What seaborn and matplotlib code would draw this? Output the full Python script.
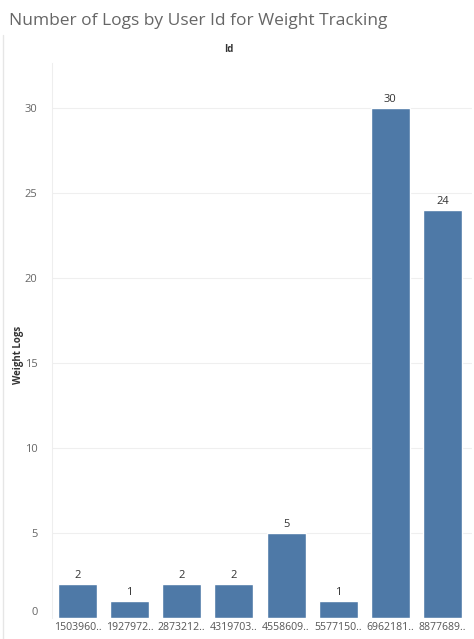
import matplotlib.pyplot as plt
import seaborn as sns
import pandas as pd

# data
user_ids = ['1503960..', '1927972..', '2873212..', '4319703..',
            '4558609..', '5577150..', '6962181..', '8877689..']
weight_logs = [2, 1, 2, 2, 5, 1, 30, 24]
y_ticks = [0, 5, 10, 15, 20, 25, 30]

df = pd.DataFrame({'Id': user_ids, 'Weight Logs': weight_logs})

sns.set_style('white')
plt.rcParams['font.family'] = ['Open Sans', 'DejaVu Sans']

W, H = 474, 639
fig = plt.figure(figsize=(W / 100, H / 100), dpi=100)
ax = fig.add_axes([51.5 / W, (H - 618) / H, (468.5 - 51.5) / W, (618 - 63) / H])

sns.barplot(data=df, x='Id', y='Weight Logs', color='#4e79a7',
            width=0.75, saturation=1, ax=ax, zorder=3)

ax.set_ylim(0, 32.65)
ax.set_xlim(-0.5, len(user_ids) - 0.5)
ax.set_yticks(y_ticks)
ax.set_yticklabels([str(t) for t in y_ticks], fontsize=8, color='#666666')
ax.tick_params(axis='y', length=0, pad=10)
ax.tick_params(axis='x', length=0, pad=3, labelsize=7.6, labelcolor='#555555')
# the zero label sits a bit above the baseline
ax.get_yticklabels()[0].set_va('bottom')

for t in y_ticks[1:]:
    ax.plot([-0.5, 7.55], [t, t], color='#efefef', lw=0.8, zorder=1, clip_on=False)

for i, v in enumerate(weight_logs):
    ax.text(i, v + 0.15, str(v), ha='center', va='bottom', fontsize=8, color='#333333')

for side in ['top', 'right', 'bottom']:
    ax.spines[side].set_visible(False)
ax.spines['left'].set_color('#eeeeee')
ax.spines['left'].set_linewidth(0.8)

ax.set_xlabel('')
ax.set_ylabel('')
fig.text(18 / W, 1 - 355 / H, 'Weight Logs', rotation=90, ha='center', va='center',
         fontsize=7, fontweight='bold', color='#333333')
fig.text(229 / W, 1 - 50 / H, 'Id', ha='center', va='center',
         fontsize=7, fontweight='bold', color='#333333')
fig.text(9 / W, 1 - 21 / H, 'Number of Logs by User Id for Weight Tracking',
         ha='left', va='center', fontsize=12.5, color='#666666')

# light frame line on the left edge
fig.add_artist(plt.Line2D([3 / W, 3 / W], [0, 1 - 35 / H], color='#e6e6e6', lw=1))

fig.savefig('out.png', dpi=100)
